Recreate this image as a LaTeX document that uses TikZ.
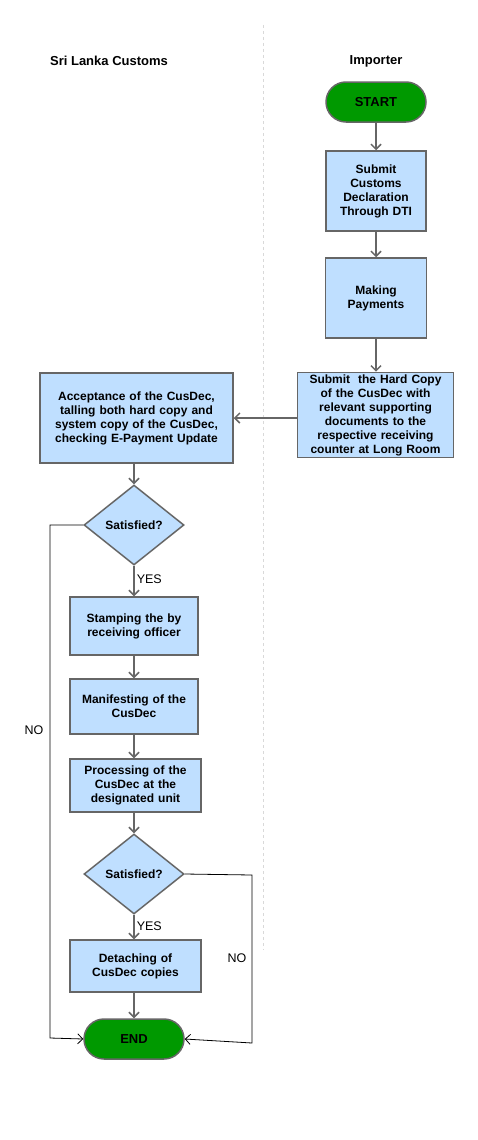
\documentclass[tikz,border=0pt]{standalone}
\usepackage{fontspec}
\setmainfont{Liberation Sans}
\usetikzlibrary{shapes.geometric,arrows.meta}
\definecolor{boxblue}{HTML}{BFDFFF}
\definecolor{termgreen}{HTML}{009900}
\definecolor{edge}{HTML}{666666}
\tikzset{
  stepbox/.style={draw=edge,line width=1.5pt,fill=boxblue,align=center,inner sep=2pt,font=\fontsize{12}{14}\selectfont\bfseries},
  term/.style={draw=edge,line width=1.5pt,fill=termgreen,rounded corners=20pt,minimum width=100pt,minimum height=40pt,font=\fontsize{13}{15}\selectfont\bfseries},
  decide/.style={draw=edge,line width=1.5pt,fill=boxblue,diamond,shape aspect=1.25,minimum width=100pt,minimum height=80pt,inner sep=0pt,font=\fontsize{12}{14}\selectfont\bfseries},
  flow/.style={draw=edge,line width=1.5pt,-{Straight Barb[length=5pt,width=10pt]}},
  noline/.style={draw=black,line width=0.8pt,-{Straight Barb[length=5pt,width=10pt]}},
  lbl/.style={font=\fontsize{12.5}{14}\selectfont},
  lane/.style={font=\fontsize{13}{15}\selectfont\bfseries}
}
\begin{document}
\begin{tikzpicture}[x=1pt,y=-1pt]
\useasboundingbox (0,0) rectangle (478,1140);
\draw[draw=black!15,line width=1pt,dashed] (263,25) -- (263,950);
\node[lane] (lc) at (109,61) {Sri Lanka Customs};
\node[lane] (li) at (376,61) {Importer};
\node[term] (start) at (376,102) {START};
\node[stepbox,minimum width=100pt,minimum height=80pt,text width=94pt] (b1) at (376,191) {Submit\\Customs\\Declaration\\Through DTI};
\node[stepbox,minimum width=101pt,minimum height=80pt,text width=94pt] (b2) at (376,298) {Making\\Payments};
\node[stepbox,minimum width=155pt,minimum height=84pt,text width=152pt] (b3) at (375.5,415) {Submit\ \ the Hard Copy\\of the CusDec with\\relevant supporting\\documents to the\\respective receiving\\counter at Long Room};
\node[stepbox,minimum width=193pt,minimum height=90pt,text width=188pt] (acc) at (136.5,418) {Acceptance of the CusDec,\\talling both hard copy and\\system copy of the CusDec,\\checking E-Payment Update};
\node[decide] (d1) at (134,525) {Satisfied?};
\node[stepbox,minimum width=128pt,minimum height=58pt,text width=124pt] (s1) at (134,626) {Stamping the by\\receiving officer};
\node[stepbox,minimum width=128pt,minimum height=55pt,text width=124pt] (s2) at (134,706.5) {Manifesting of the\\CusDec};
\node[stepbox,minimum width=131pt,minimum height=53pt,text width=127pt] (s3) at (135.5,785.5) {Processing of the\\CusDec at the\\designated unit};
\node[decide] (d2) at (134,874) {Satisfied?};
\node[stepbox,minimum width=131pt,minimum height=52pt,text width=127pt] (s4) at (135.5,966) {Detaching of\\CusDec copies};
\node[term] (end) at (134,1039) {END};
\draw[flow] (start) -- (b1);
\draw[flow] (b1) -- (b2);
\draw[flow] (b2) -- (b2 |- b3.north);
\draw[flow] (b3.west |- acc.east) -- (acc.east);
\draw[flow] (acc.south -| d1) -- (d1);
\draw[flow] (d1) -- node[lbl,right,pos=0.45,inner sep=2pt] {YES} (d1 |- s1.north);
\draw[flow] (s1.south -| d1) -- (d1 |- s2.north);
\draw[flow] (s2.south -| d1) -- (d1 |- s3.north);
\draw[flow] (s3.south -| d1) -- (d2);
\draw[flow] (d2) -- node[lbl,right,pos=0.45,inner sep=2pt] {YES} (d2 |- s4.north);
\draw[flow] (s4.south -| d2) -- (end);
\coordinate (nl1) at (50,525);
\coordinate (nl2) at (50,1038);
\coordinate (nr1) at (252,875);
\coordinate (nr2) at (252,1043);
\draw[noline] (d1.west) -- (nl1) -- (nl2) -- (end.west);
\draw[noline] (d2.east) -- (nr1) -- (nr2) -- (end.east);
\node[lbl] (no1) at (34,730) {NO};
\node[lbl] (no2) at (237,958) {NO};
\end{tikzpicture}
\end{document}
